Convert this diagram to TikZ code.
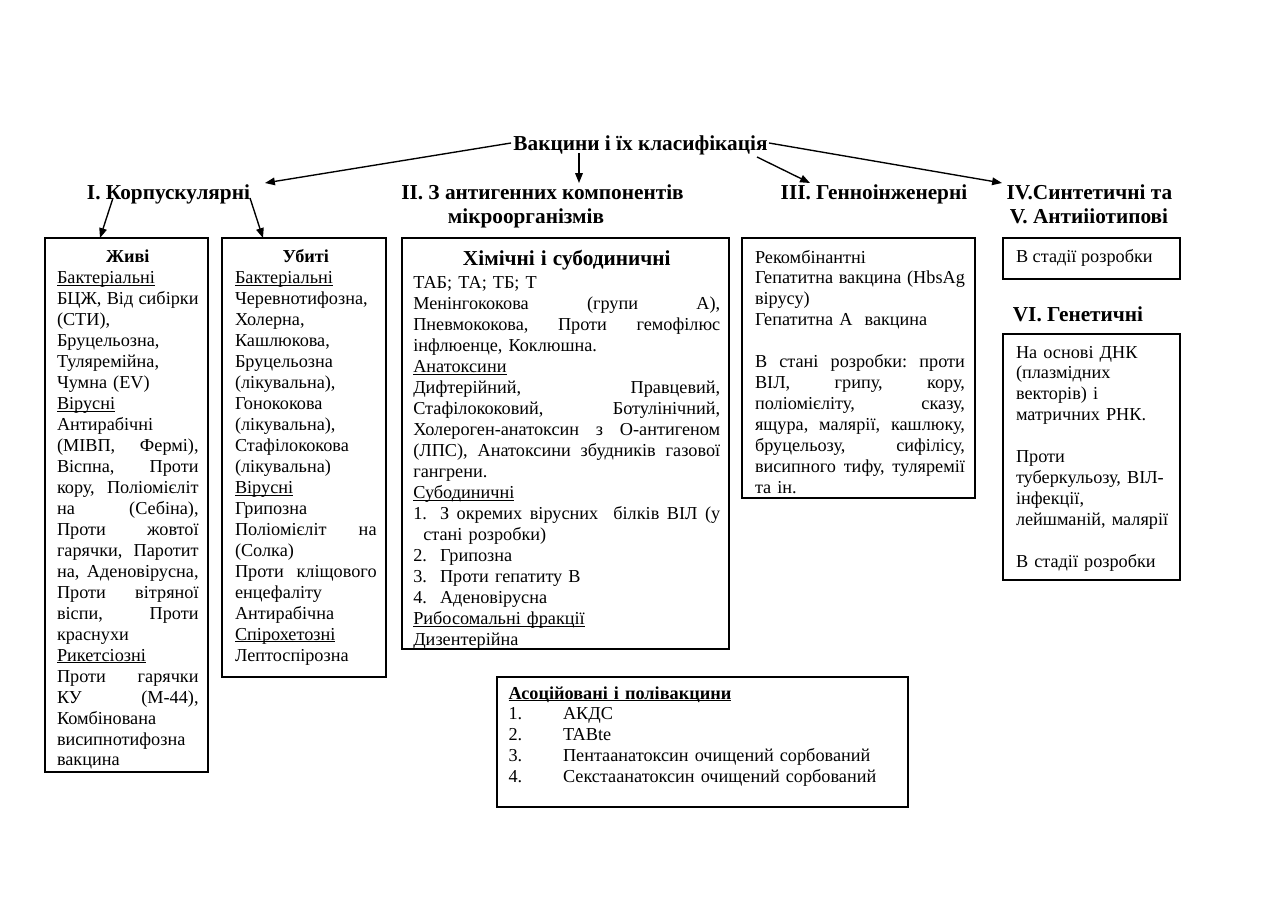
\documentclass[tikz,border=0pt]{standalone}
\usepackage{fontspec}
\setmainfont{Liberation Serif}
\usetikzlibrary{arrows.meta,fit}
\newsavebox{\ulbox}
\newcommand{\jline}[1]{\leavevmode\hbox to\linewidth{\frenchspacing\spaceskip=0.25em plus 1fill minus 0.08em\relax #1}}
\newcommand{\uln}[1]{\leavevmode\sbox{\ulbox}{#1}\rlap{\rule[-1.5pt]{\wd\ulbox}{0.6pt}}\usebox{\ulbox}}
\newcommand{\numA}[1]{\makebox[17.6pt][l]{#1}}
\newcommand{\numB}[1]{\makebox[35.8pt][l]{#1}}
\begin{document}
\begin{tikzpicture}[x=0.657813pt,y=-0.657813pt,
  box/.style={draw,line width=0.9pt,inner sep=0pt},
  txt/.style={anchor=base west,inner sep=0pt,font=\fontsize{12}{13.8}\selectfont},
  head/.style={anchor=base,inner sep=0pt,font=\fontsize{14}{16}\selectfont\bfseries},
  arr/.style={line width=0.9pt,-{Triangle[length=6.5pt,width=5pt]}}]
\useasboundingbox (0,0) rectangle (1280,905);

% headings
\node[head] (title) at (640.5,150) {Вакцини і їх класифікація};
\node[head] (korp) at (168.5,200) {I. Корпускулярні};
\node[head] (anti1) at (542.5,200) {II. З антигенних компонентів};
\node[head] (anti2) at (526,223) {мікроорганізмів};
\node[head] (genn) at (874,200) {III. Генноінженерні};
\node[head] (synt1) at (1089.5,200) {IV.Синтетичні та};
\node[head] (synt2) at (1089,223) {V. Антиііотипові};
\node[head] (genet) at (1078,321) {VI. Генетичні};

% boxes
\node[box,fit={(45,238) (208,772)}] (zhyvi) {};
\node[box,fit={(222,238) (386,677)}] (ubyti) {};
\node[box,fit={(402,238) (729,649)}] (khim) {};
\node[box,fit={(742,238) (975,498)}] (recomb) {};
\node[box,fit={(1003,238) (1180,279)}] (stadii) {};
\node[box,fit={(1003,334) (1180,580)}] (genbox) {};
\node[box,fit={(497,677) (908,807)}] (assoc) {};

% arrows
\coordinate (a1s) at (511,143);
\coordinate (a1e) at (265,183);
\coordinate (a2s) at (579,153);
\coordinate (a2e) at (579,183);
\coordinate (a3s) at (757,157);
\coordinate (a3e) at (810,183);
\coordinate (a4s) at (769,143);
\coordinate (a4e) at (1002,183);
\coordinate (a5s) at (113,198);
\coordinate (a5e) at (100,238);
\coordinate (a6s) at (250,198);
\coordinate (a6e) at (263,238);
\draw[arr] (a1s) -- (a1e);
\draw[arr] (a2s) -- (a2e);
\draw[arr] (a3s) -- (a3e);
\draw[arr] (a4s) -- (a4e);
\draw[arr] (a5s) -- (a5e);
\draw[arr] (a6s) -- (a6e);

% texts
\node[txt,text width=93.15pt] (zhyvitxt) at (56.7,262.5) {\makebox[\linewidth]{\textbf{Живі}}\\
\uln{Бактеріальні}\\
\jline{БЦЖ, Від сибірки}\\
(СТИ),\\
Бруцельозна,\\
Туляремійна,\\
Чумна (EV)\\
\uln{Вірусні}\\
Антирабічні\\
\jline{(МІВП, Фермі),}\\
\jline{Віспна, Проти}\\
\jline{кору, Поліомієліт}\\
\jline{на (Себіна),}\\
\jline{Проти жовтої}\\
\jline{гарячки, Паротит}\\
\jline{на, Аденовірусна,}\\
\jline{Проти вітряної}\\
\jline{віспи, Проти}\\
краснухи\\
\uln{Рикетсіозні}\\
\jline{Проти гарячки}\\
\jline{КУ (М-44),}\\
Комбінована\\
висипнотифозна\\
вакцина};

\node[txt,text width=93.15pt] (ubytitxt) at (234.7,262.5) {\makebox[\linewidth]{\textbf{Убиті}}\\
\uln{Бактеріальні}\\
Черевнотифозна,\\
Холерна,\\
Кашлюкова,\\
Бруцельозна\\
(лікувальна),\\
Гонококова\\
(лікувальна),\\
Стафілококова\\
(лікувальна)\\
\uln{Вірусні}\\
Грипозна\\
\jline{Поліомієліт на}\\
(Солка)\\
\jline{Проти кліщового}\\
енцефаліту\\
Антирабічна\\
\uln{Спірохетозні}\\
Лептоспірозна};

\node[txt,text width=201.9pt] (khimtxt) at (413,265) {\makebox[\linewidth]{\fontsize{14}{16}\selectfont\bfseries Хімічні і субодиничні}\\[1.7pt]
ТАБ; ТА; ТБ; Т\\
\jline{Менінгококова (групи А),}\\
\jline{Пневмококова, Проти гемофілюс}\\
інфлюенце, Коклюшна.\\
\uln{Анатоксини}\\
\jline{Дифтерійний, Правцевий,}\\
\jline{Стафілококовий, Ботулінічний,}\\
\jline{Холероген-анатоксин з О-антигеном}\\
\jline{(ЛПС), Анатоксини збудників газової}\\
гангрени.\\
\uln{Субодиничні}\\
\jline{\numA{1.}З окремих вірусних\ \ білків ВІЛ (у}\\
\hspace*{6.6pt}стані розробки)\\
\numA{2.}Грипозна\\
\numA{3.}Проти гепатиту В\\
\numA{4.}Аденовірусна\\
\uln{Рибосомальні фракції}\\
Дизентерійна};

\node[txt,text width=138.1pt] (rectxt) at (754.7,263) {Рекомбінантні\\
\jline{Гепатитна вакцина (HbsAg}\\
вірусу)\\
Гепатитна А\ \ вакцина\\
\mbox{}\\
\jline{В стані розробки: проти}\\
\jline{ВІЛ, грипу, кору,}\\
\jline{поліомієліту, сказу,}\\
\jline{ящура, малярії, кашлюку,}\\
\jline{бруцельозу, сифілісу,}\\
\jline{висипного тифу, туляремії}\\
та ін.};

\node[txt] (stadtxt) at (1015.7,262) {В стадії розробки};

\node[txt,text width=104pt] (gentxt) at (1015.7,358) {На основі ДНК\\
(плазмідних\\
векторів) і\\
матричних РНК.\\
\mbox{}\\
Проти\\
туберкульозу, ВІЛ-\\
інфекції,\\
лейшманій, малярії\\
\mbox{}\\
В стадії розробки};

\node[txt,text width=256pt] (assoctxt) at (508.3,699) {\textbf{\uln{Асоційовані і полівакцини}}\\
\numB{1.}АКДС\\
\numB{2.}TABte\\
\numB{3.}Пентаанатоксин очищений сорбований\\
\numB{4.}Секстаанатоксин очищений сорбований};
\end{tikzpicture}
\end{document}
